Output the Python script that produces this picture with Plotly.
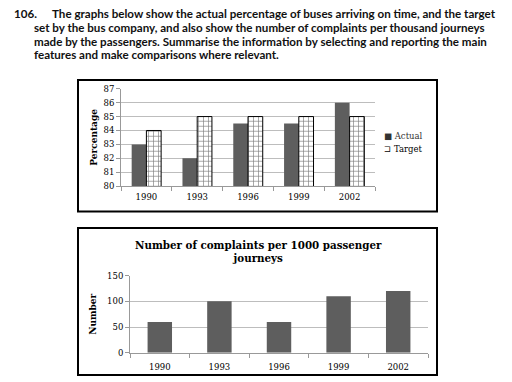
import plotly.graph_objects as go

W, H = 512, 382

years = ["1990", "1993", "1996", "1999", "2002"]
actual_pct = [83, 82, 84.5, 84.5, 86]
target_pct = [84, 85, 85, 85, 85]
complaints = [60, 100, 60, 110, 120]

pct_ticks = [80, 81, 82, 83, 84, 85, 86, 87]
num_ticks = [0, 50, 100, 150]

series_names = ["Actual", "Target"]
legend_glyphs = ["■", "⊐"]

heading_num = "106."
heading_lines = [
    "The graphs below show the actual percentage of buses arriving on time, and the target",
    "set by the bus company, and also show the number of complaints per thousand journeys",
    "made by the passengers. Summarise the information by selecting and reporting the main",
    "features and make comparisons where relevant.",
]
chart2_title = "Number of complaints per 1000 passenger<br>journeys"

SERIF = "'DejaVu Serif', serif"
SANS = "Lato, 'Open Sans', sans-serif"
DARK = "#5e5e5e"


def px(x):
    return x / W


def py(y):
    return 1 - y / H


fig = go.Figure()

fig.add_trace(go.Bar(
    x=years, y=actual_pct, name=series_names[0],
    marker=dict(color=DARK, line=dict(width=0)),
    xaxis="x", yaxis="y",
))
fig.add_trace(go.Bar(
    x=years, y=target_pct, name=series_names[1],
    marker=dict(color="white", line=dict(color="black", width=1),
                pattern=dict(shape="+", fgcolor="black", bgcolor="white",
                             size=5, solidity=0.25)),
    xaxis="x", yaxis="y",
))
fig.add_trace(go.Bar(
    x=years, y=complaints, name="Complaints", width=0.41,
    marker=dict(color=DARK, line=dict(width=0)),
    xaxis="x2", yaxis="y2",
))

annotations = [
    dict(x=px(12), y=py(9), xref="paper", yref="paper", text="<b>" + heading_num + "</b>",
         showarrow=False, xanchor="left", yanchor="middle",
         font=dict(family=SANS, size=11.6, color="#111")),
]
starts = [50, 32, 32, 32]
ys = [9, 23, 37, 51]
for line, sx, yy in zip(heading_lines, starts, ys):
    annotations.append(dict(
        x=px(sx), y=py(yy), xref="paper", yref="paper", text="<b>" + line + "</b>",
        showarrow=False, xanchor="left", yanchor="middle",
        font=dict(family=SANS, size=11.6, color="#111")))

annotations.append(dict(
    x=px(258), y=py(253), xref="paper", yref="paper",
    text="<b>" + chart2_title + "</b>", showarrow=False,
    xanchor="center", yanchor="middle",
    font=dict(family=SERIF, size=10.3, color="black")))

for i, (g, n) in enumerate(zip(legend_glyphs, series_names)):
    annotations.append(dict(
        x=px(382), y=py(135 + 13 * i), xref="paper", yref="paper",
        text=g + " " + n, showarrow=False, xanchor="left", yanchor="middle",
        font=dict(family=SERIF, size=8.5, color="black" if i else "#333")))

shapes = [
    dict(type="rect", xref="paper", yref="paper",
         x0=px(78), x1=px(437), y0=py(212), y1=py(77),
         line=dict(color="black", width=2)),
    dict(type="rect", xref="paper", yref="paper",
         x0=px(78), x1=px(437), y0=py(380), y1=py(229),
         line=dict(color="black", width=2)),
]

fig.update_layout(
    width=W, height=H,
    margin=dict(l=0, r=0, t=0, b=0),
    paper_bgcolor="white", plot_bgcolor="white",
    barmode="group", bargap=0.42, bargroupgap=0.0,
    font=dict(family=SERIF, size=8.5, color="black"),
    showlegend=False,
    xaxis=dict(domain=[px(121), px(375)], anchor="y", type="category",
               showline=True, linecolor="#999", ticks="outside", tickson="boundaries",
               ticklen=4, tickcolor="#999", showgrid=False, ticklabelstandoff=3,
               tickfont=dict(family=SERIF, size=8.5)),
    yaxis=dict(domain=[py(186), py(86)], anchor="x", range=[80, 87],
               tickvals=pct_ticks, showline=True, linecolor="#999",
               ticks="outside", ticklen=4, tickcolor="#999",
               showgrid=True, gridcolor="#bdbdbd", gridwidth=1,
               tickfont=dict(family=SERIF, size=8.5),
               title=dict(text="<b>Percentage</b>", standoff=4,
                          font=dict(family=SERIF, size=9))),
    xaxis2=dict(domain=[px(130), px(428)], anchor="y2", type="category",
                showline=True, linecolor="#999", ticks="outside", tickson="boundaries",
                ticklen=4, tickcolor="#999", showgrid=False, ticklabelstandoff=6,
                tickfont=dict(family=SERIF, size=8.5)),
    yaxis2=dict(domain=[py(357), py(278)], anchor="x2", range=[0, 150],
                tickvals=num_ticks, showline=True, linecolor="#999",
                ticks="outside", ticklen=4, tickcolor="#999",
                showgrid=True, gridcolor="#bdbdbd", gridwidth=1,
                tickfont=dict(family=SERIF, size=8.5),
                title=dict(text="<b>Number</b>", standoff=8,
                           font=dict(family=SERIF, size=9))),
    annotations=annotations,
    shapes=shapes,
)

fig.write_html("out.html", config={"displayModeBar": False},
               post_script="document.body.style.margin='0';")
